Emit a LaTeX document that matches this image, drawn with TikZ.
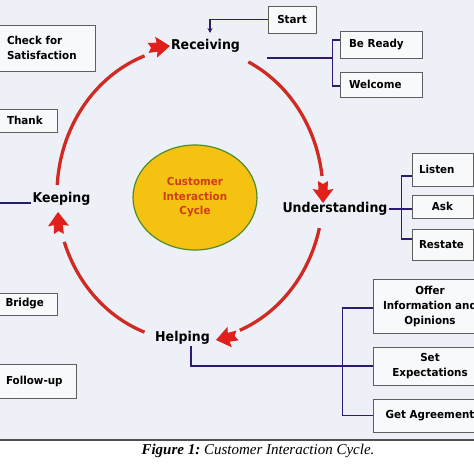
\documentclass[tikz,border=0pt]{standalone}
\usepackage{fontspec}
\setmainfont{Liberation Serif}
\newfontfamily\dvs{DejaVu Sans}[FakeStretch=0.94]
\newfontfamily\dvsc{DejaVu Sans}[FakeStretch=0.93]
\usetikzlibrary{arrows.meta,shapes.geometric}
\definecolor{bgc}{HTML}{EDF1F7}
\definecolor{boxgray}{HTML}{5E5E5E}
\definecolor{boxfill}{HTML}{F8F9FB}
\definecolor{connc}{HTML}{2E1A6E}
\definecolor{redc}{HTML}{D02A23}
\definecolor{redarr}{HTML}{E0201B}
\definecolor{yel}{HTML}{F5C211}
\definecolor{grn}{HTML}{4E8C2A}
\definecolor{ctxt}{HTML}{D03C1A}
\definecolor{rulec}{HTML}{505050}
\tikzset{
  box/.style={draw=boxgray, fill=boxfill, line width=1pt, inner ysep=0pt,
    font=\dvs\bfseries\fontsize{11}{15}\selectfont},
  lbox/.style={box, align=left},
  cbox/.style={box, align=center},
  big/.style={font=\dvsc\bfseries\fontsize{13.5}{16}\selectfont, inner sep=1pt},
  conn/.style={draw=connc, line width=1.9pt},
  cyc/.style={draw=redc, line width=3.3pt},
  redarrow/.pic={\fill[redarr] (0,0) -- (-14,10.5) -- (-13,4.5) -- (-22,5) -- (-19,0) -- (-22,-5) -- (-13,-4.5) -- (-14,-10.5) -- cycle;}
}
\begin{document}
\begin{tikzpicture}[x=1pt,y=-1pt]
\useasboundingbox (0,0) rectangle (474,474);
\clip (0,0) rectangle (474,474);
\fill[white] (0,0) rectangle (474,474);
\fill[bgc] (0,0) rectangle (474,440);
\draw[line width=1.4pt, draw=rulec] (0,440) -- (474,440);

% centre ellipse
\node[ellipse, minimum width=124pt, minimum height=105pt, fill=yel, draw=grn, line width=1.2pt,
  inner sep=0pt, align=center, text=ctxt, font=\dvs\bfseries\fontsize{11}{14.5}\selectfont]
  (cic) at (195,197.5) {Customer\\Interaction\\Cycle};

% main labels
\node[big] (rcv) at (205.5,46) {Receiving};
\node[big] (und) at (335,209) {Understanding};
\node[big] (hlp) at (182.5,338) {Helping};
\node[big] (kep) at (61.5,199) {Keeping};

% boxes
\node[lbox, minimum height=46pt, text width=75pt, inner xsep=13pt] (sat) at (44.5,48) {Check for\\Satisfaction};
\node[lbox, minimum height=23pt, text width=37pt, inner xsep=13pt] (thank) at (25.5,120.5) {Thank};
\node[lbox, minimum height=22pt, text width=40pt, inner xsep=11.5pt] (bridge) at (25.5,304) {Bridge};
\node[lbox, minimum height=34pt, text width=58pt, inner xsep=12pt] (follow) at (35,381) {Follow-up};
\node[cbox, minimum width=48pt, minimum height=27pt] (start) at (292,19.5) {Start};
\node[lbox, minimum height=27pt, text width=64pt, inner xsep=9pt] (beready) at (381,44.5) {Be Ready};
\node[lbox, minimum height=25pt, text width=64pt, inner xsep=9pt] (welcome) at (381,84.5) {Welcome};
\node[lbox, minimum height=33pt, text width=47pt, inner xsep=7pt] (listen) at (442.5,169.5) {Listen};
\node[cbox, minimum width=61pt, minimum height=23pt] (ask) at (442.5,206.5) {Ask};
\node[lbox, minimum height=31pt, text width=47pt, inner xsep=7pt] (restate) at (442.5,244.5) {Restate};
\node[cbox, minimum width=114pt, minimum height=54pt] (offer) at (430,306) {Offer\\Information and\\Opinions};
\node[cbox, minimum width=114pt, minimum height=38pt] (setexp) at (430,366) {Set\\Expectations};
\node[cbox, minimum width=114pt, minimum height=33pt] (getagr) at (430,415.5) {Get Agreement};

% connectors
\coordinate (rcvin) at (210,33);
\draw[conn, -{Stealth[length=5pt,width=5pt]}] (start.west) -| (rcvin);
\coordinate (rcvout) at (267,58);
\draw[conn] (rcvout) -- (333,58);
\draw[conn] ([yshift=4.5pt]beready.west) -- ++(-7,0) |- ([yshift=-1.5pt]welcome.west);
\draw[conn] (und.east) -- (und.east -| ask.west);
\draw[conn] ([yshift=-6.5pt]listen.west) -- ++(-10,0) |- ([yshift=5.5pt]restate.west);
\draw[conn] ([xshift=8.5pt]hlp.south) |- (setexp.west);
\draw[conn] ([yshift=-2pt]offer.west) -- ++(-30,0) |- (getagr.west);
\coordinate (kout) at (-5,203);
\draw[conn] (kout) -- (kout -| kep.west);

% red cycle
\draw[cyc] plot[domain=183.5:250, samples=40, variable=\t] ({190+133*cos(\t)},{194+147*sin(\t)});
\draw[cyc] plot[domain=296:353, samples=40, variable=\t] ({190+133*cos(\t)},{194+147*sin(\t)});
\draw[cyc] plot[domain=13.4:68, samples=40, variable=\t] ({190+133*cos(\t)},{194+147*sin(\t)});
\draw[cyc] plot[domain=110:161, samples=40, variable=\t] ({190+133*cos(\t)},{194+147*sin(\t)});
\pic[rotate=5] at (170,46) {redarrow};
\pic[rotate=-90] at (323,203) {redarrow};
\pic[rotate=192] at (216,340) {redarrow};
\pic[rotate=92] at (58,212) {redarrow};

% caption
\node (cap) at (258,451) {\fontsize{15}{17}\selectfont\bfseries\itshape Figure 1:\ \mdseries Customer Interaction Cycle.};
\end{tikzpicture}
\end{document}
